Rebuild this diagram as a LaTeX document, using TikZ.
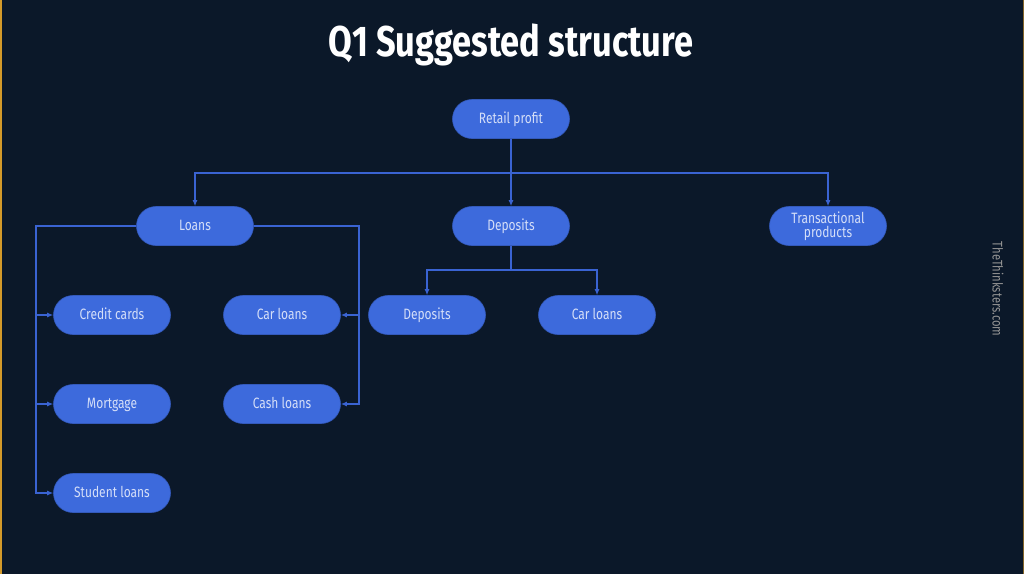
\documentclass[tikz,border=0pt]{standalone}
\usepackage{fontspec}
\setmainfont{Fira Sans}[FakeStretch=0.8]
\usetikzlibrary{positioning,arrows.meta}
\definecolor{bgnavy}{HTML}{0B1829}
\definecolor{boxblue}{HTML}{3D6ADC}
\definecolor{boxtext}{HTML}{D4DEF8}
\definecolor{linkblue}{HTML}{3A63D2}
\definecolor{edgegold}{HTML}{D49A2A}
\begin{document}
\begin{tikzpicture}[
    x=1pt, y=-1pt,
    pill/.style={draw=boxblue!85!black, line width=0.6pt, fill=boxblue, text=boxtext, rounded corners=19.5pt,
      minimum width=117pt, minimum height=39pt, inner sep=0pt, align=center, font=\fontsize{15}{14}\selectfont},
    box/.style={pill, text height=11.5pt, text depth=3pt},
    link/.style={linkblue, line width=1.1pt, -{Latex[length=6pt,width=5pt]}},
  ]
    \useasboundingbox (0,0) rectangle (1024,574);
    \fill[bgnavy] (0,0) rectangle (1024,574);
    \draw[edgegold, line width=1.5pt] (0.75,0) -- (0.75,574);
    \draw[edgegold!60!bgnavy, line width=1pt] (1023.5,0) -- (1023.5,574);

    \node[font=\fontsize{43}{43}\selectfont\bfseries, text=white] (title) at (511,45) {Q1 Suggested structure};

    % top level
    \node[box] (root) at (511,119) {Retail profit};
    \node[box] (loans) at (195,226) {Loans};
    \node[box] (deposits) at (511,226) {Deposits};
    \node[pill] (trans) at (828,226) {Transactional\\products};

    % loans branch
    \node[box] (credit) at (112,315) {Credit cards};
    \node[box] (mortgage) at (112,404) {Mortgage};
    \node[box] (student) at (112,493) {Student loans};
    \node[box] (carl) at (282,315) {Car loans};
    \node[box] (cashl) at (282,404) {Cash loans};

    % deposits branch
    \node[box] (subdep) at (427,315) {Deposits};
    \node[box] (subcar) at (597,315) {Car loans};

    \node[rotate=-90, text=gray!85, font=\fontsize{14}{14}\selectfont] (mark) at (998,289) {TheThinksters.com};

    \coordinate (fork) at (511,173);
    \coordinate (dfork) at (511,270);
    \coordinate (lrail) at (36,0);
    \coordinate (rrail) at (359,0);

    \draw[link] (root) -- (deposits);
    \draw[link] (fork) -| (loans);
    \draw[link] (fork) -| (trans);

    \draw[link] (loans.west) -- (loans.west -| lrail) |- (student.west);
    \draw[link] (loans.west -| lrail) |- (credit.west);
    \draw[link] (loans.west -| lrail) |- (mortgage.west);
    \draw[link] (loans.east) -- (loans.east -| rrail) |- (cashl.east);
    \draw[link] (loans.east -| rrail) |- (carl.east);

    \draw[link] (deposits) -- (dfork) -| (subdep);
    \draw[link] (dfork) -| (subcar);
  \end{tikzpicture}
\end{document}
